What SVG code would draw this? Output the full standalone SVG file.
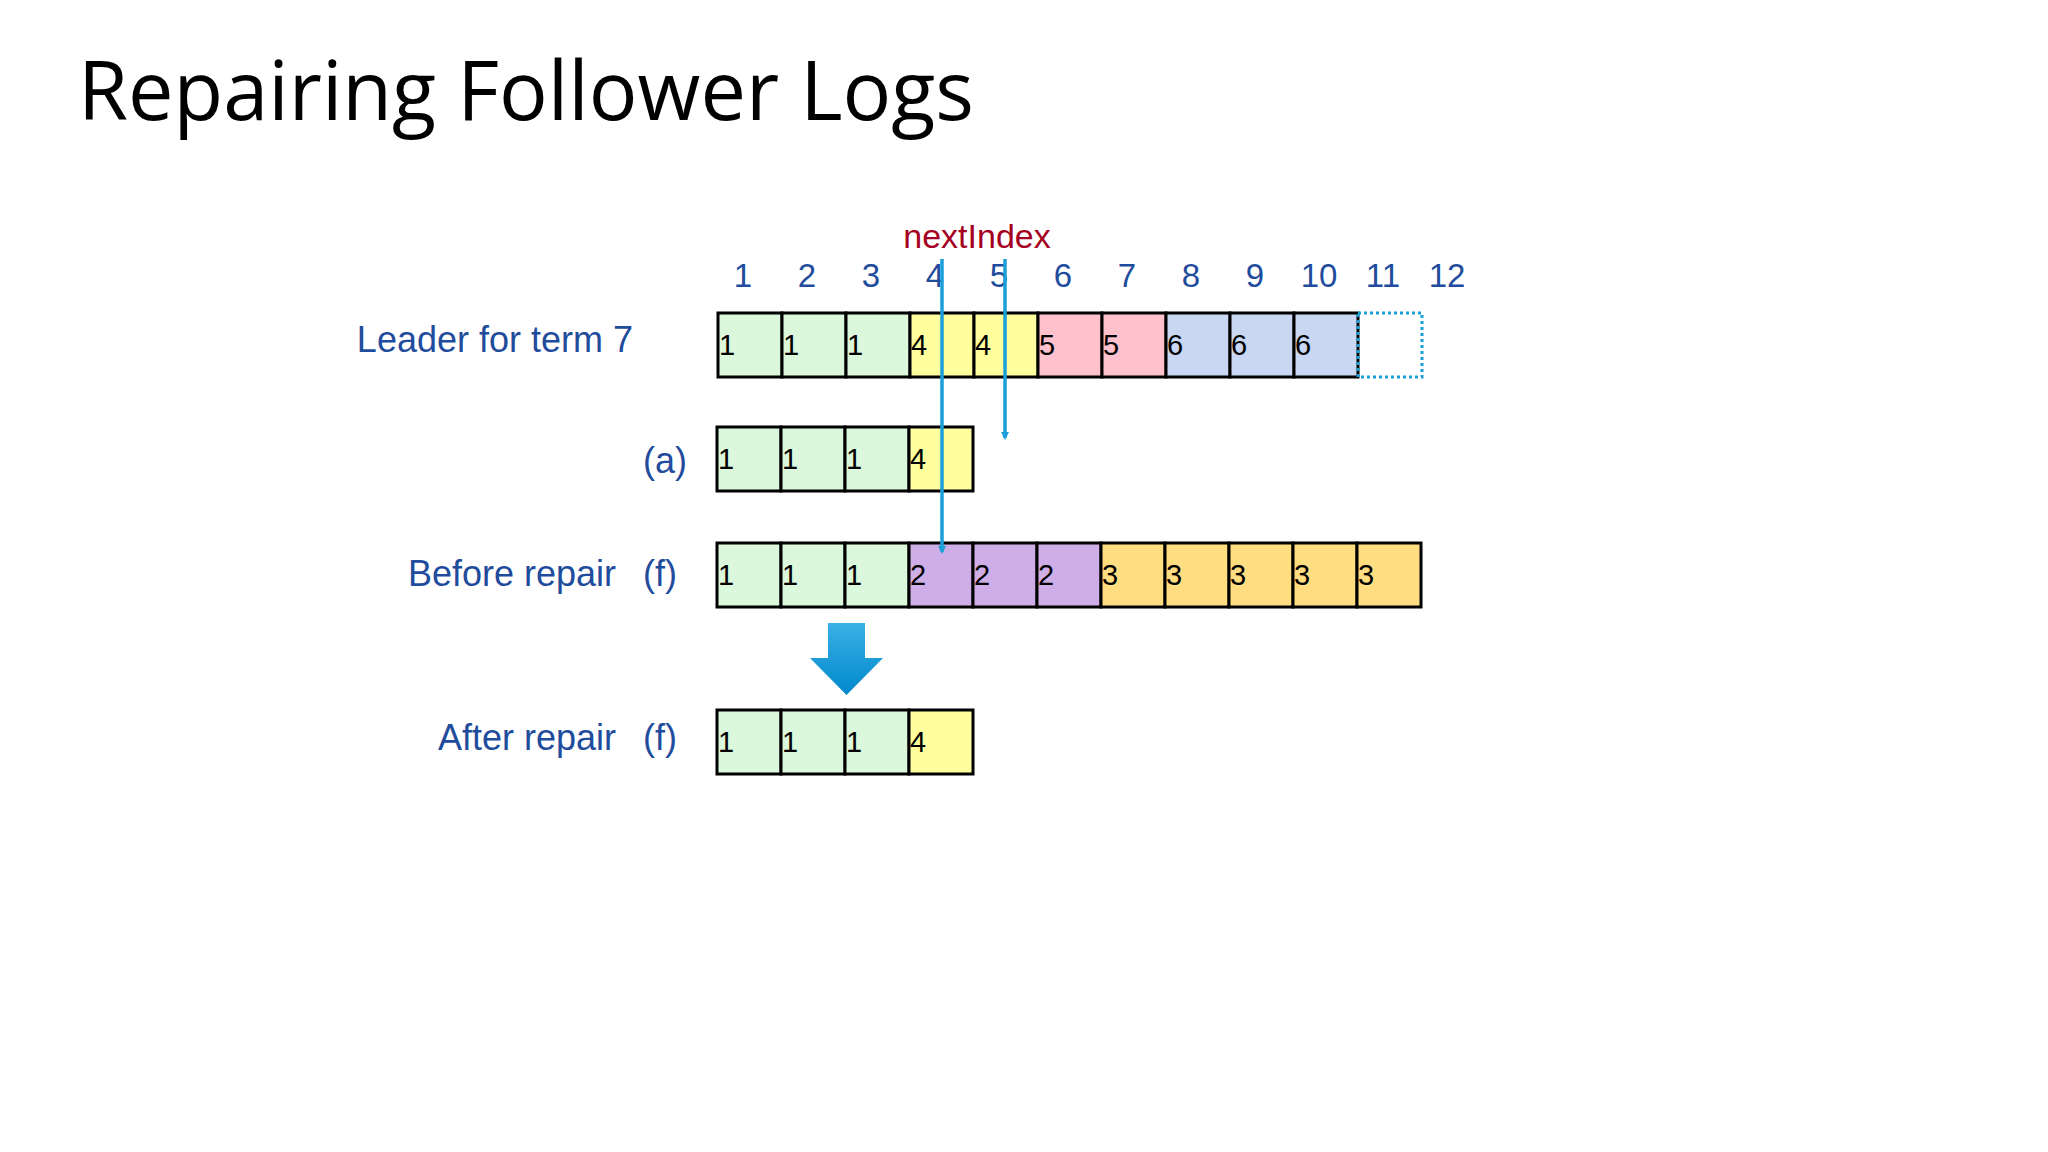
<svg xmlns="http://www.w3.org/2000/svg" width="2048" height="1152" viewBox="0 0 2048 1152">
<style>
.c{stroke:#000;stroke-width:3}
.g{fill:#dcf8dc}.y{fill:#ffff9e}.p{fill:#ffc2cc}.b{fill:#c9d7f2}.v{fill:#cfaee8}.o{fill:#ffdd80}
.n{font-family:"Liberation Sans",Arial,sans-serif;font-size:29px;fill:#000}
.i{font-family:"Liberation Sans",Arial,sans-serif;font-size:33px;fill:#1f4c9c;text-anchor:middle}
.l{font-family:"Liberation Sans",Arial,sans-serif;font-size:36px;fill:#1f4c9c;text-anchor:end}
.a{stroke:#1a9fd8;stroke-width:3.5;fill:none}
</style>
<defs>
<marker id="ah" markerWidth="8" markerHeight="8" refX="6" refY="4" orient="auto" markerUnits="userSpaceOnUse"><path d="M0,0 L8,4 L0,8 z" fill="#1a9fd8"/></marker>
<linearGradient id="bg" x1="0" y1="0" x2="0" y2="1"><stop offset="0" stop-color="#3ab0e6"/><stop offset="1" stop-color="#0088cc"/></linearGradient>
</defs>
<rect width="2048" height="1152" fill="#fff"/>
<text x="78" y="120" font-family="'Open Sans','Liberation Sans',sans-serif" font-size="82" fill="#000" textLength="896" lengthAdjust="spacingAndGlyphs">Repairing Follower Logs</text>
<g id="indices">
<text class="i" x="743" y="287">1</text><text class="i" x="807" y="287">2</text><text class="i" x="871" y="287">3</text><text class="i" x="935" y="287">4</text><text class="i" x="999" y="287">5</text><text class="i" x="1063" y="287">6</text><text class="i" x="1127" y="287">7</text><text class="i" x="1191" y="287">8</text><text class="i" x="1255" y="287">9</text><text class="i" x="1319" y="287">10</text><text class="i" x="1383" y="287">11</text><text class="i" x="1447" y="287">12</text>
</g>
<g id="labels">
<text class="l" x="633" y="352">Leader for term 7</text>
<text class="l" x="687" y="473">(a)</text>
<text class="l" x="616" y="586">Before repair</text>
<text class="l" x="677" y="586">(f)</text>
<text class="l" x="616" y="750">After repair</text>
<text class="l" x="677" y="750">(f)</text>
<text x="977" y="248" font-family="'Liberation Sans',Arial,sans-serif" font-size="34" fill="#a50021" text-anchor="middle">nextIndex</text>
</g>
<g id="leader">
<rect class="c g" x="718" y="313" width="64" height="64"/><rect class="c g" x="782" y="313" width="64" height="64"/><rect class="c g" x="846" y="313" width="64" height="64"/>
<rect class="c y" x="910" y="313" width="64" height="64"/><rect class="c y" x="974" y="313" width="64" height="64"/>
<rect class="c p" x="1038" y="313" width="64" height="64"/><rect class="c p" x="1102" y="313" width="64" height="64"/>
<rect class="c b" x="1166" y="313" width="64" height="64"/><rect class="c b" x="1230" y="313" width="64" height="64"/><rect class="c b" x="1294" y="313" width="64" height="64"/>
<rect x="1358" y="313" width="64" height="64" fill="none" stroke="#1a9fd8" stroke-width="3" stroke-dasharray="3,3"/>
<text class="n" x="719" y="355">1</text><text class="n" x="783" y="355">1</text><text class="n" x="847" y="355">1</text><text class="n" x="911" y="355">4</text><text class="n" x="975" y="355">4</text><text class="n" x="1039" y="355">5</text><text class="n" x="1103" y="355">5</text><text class="n" x="1167" y="355">6</text><text class="n" x="1231" y="355">6</text><text class="n" x="1295" y="355">6</text>
</g>
<g id="rowa">
<rect class="c g" x="717" y="427" width="64" height="64"/><rect class="c g" x="781" y="427" width="64" height="64"/><rect class="c g" x="845" y="427" width="64" height="64"/><rect class="c y" x="909" y="427" width="64" height="64"/>
<text class="n" x="718" y="469">1</text><text class="n" x="782" y="469">1</text><text class="n" x="846" y="469">1</text><text class="n" x="910" y="469">4</text>
</g>
<g id="rowf">
<rect class="c g" x="717" y="543" width="64" height="64"/><rect class="c g" x="781" y="543" width="64" height="64"/><rect class="c g" x="845" y="543" width="64" height="64"/>
<rect class="c v" x="909" y="543" width="64" height="64"/><rect class="c v" x="973" y="543" width="64" height="64"/><rect class="c v" x="1037" y="543" width="64" height="64"/>
<rect class="c o" x="1101" y="543" width="64" height="64"/><rect class="c o" x="1165" y="543" width="64" height="64"/><rect class="c o" x="1229" y="543" width="64" height="64"/><rect class="c o" x="1293" y="543" width="64" height="64"/><rect class="c o" x="1357" y="543" width="64" height="64"/>
<text class="n" x="718" y="585">1</text><text class="n" x="782" y="585">1</text><text class="n" x="846" y="585">1</text><text class="n" x="910" y="585">2</text><text class="n" x="974" y="585">2</text><text class="n" x="1038" y="585">2</text><text class="n" x="1102" y="585">3</text><text class="n" x="1166" y="585">3</text><text class="n" x="1230" y="585">3</text><text class="n" x="1294" y="585">3</text><text class="n" x="1358" y="585">3</text>
</g>
<g id="after">
<rect class="c g" x="717" y="710" width="64" height="64"/><rect class="c g" x="781" y="710" width="64" height="64"/><rect class="c g" x="845" y="710" width="64" height="64"/><rect class="c y" x="909" y="710" width="64" height="64"/>
<text class="n" x="718" y="752">1</text><text class="n" x="782" y="752">1</text><text class="n" x="846" y="752">1</text><text class="n" x="910" y="752">4</text>
</g>
<g id="bigarrow">
<path d="M828,623 L865,623 L865,658 L883,658 L846.5,695 L810,658 L828,658 z" fill="url(#bg)"/>
</g>
<g id="connectors">
<line class="a" x1="942" y1="259" x2="942" y2="552" marker-end="url(#ah)"/>
<line class="a" x1="1005" y1="259" x2="1005" y2="438" marker-end="url(#ah)"/>
</g>
</svg>
